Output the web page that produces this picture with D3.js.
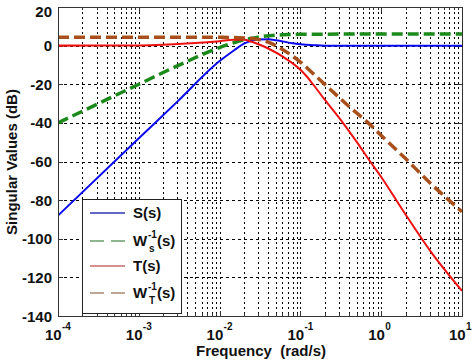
<!DOCTYPE html>
<html>
<head>
<meta charset="utf-8">
<script src="https://cdn.jsdelivr.net/npm/d3@7"></script>
<style>
  html, body { margin: 0; padding: 0; background: #fff; }
  svg { display: block; font-family: Arial, "Liberation Sans", sans-serif; }
</style>
</head>
<body>
<svg id="chart" width="474" height="362"></svg>
<script>
// values (frequency in rad/s, magnitude in dB)
const sFreq = [1e-4, 1e-3, 3e-3, 1e-2, 1.5e-2, 2e-2, 2.5e-2, 3e-2, 4e-2, 5e-2, 6e-2, 8e-2, 1e-1, 1.5e-1, 2e-1, 1e1];
const sDb = [-88, -48, -29, -8, -2.5, 1, 2.5, 3.2, 3.3, 2.8, 2.2, 1.2, 0.7, 0.2, 0, 0];

const wsFreq = [1e-4, 1e-3, 3e-3, 1e-2, 1.5e-2, 2e-2, 3e-2, 5e-2, 7e-2, 1e-1, 1, 1e1];
const wsDb = [-40, -20, -10.5, -1, 1.5, 3, 4.4, 5.4, 5.7, 5.85, 6, 6];

const tFreq = [1e-4, 1e-3, 2e-3, 5e-3, 1e-2, 1.5e-2, 2e-2, 2.5e-2, 3.2e-2, 4e-2, 6.2e-2, 1e-1, 1.2e-1, 1.43e-1, 2e-1, 3.36e-1, 5e-1, 7.3e-1, 1, 1.9, 4, 1e1];
const tDb = [0, 0.1, 0.4, 1.3, 2.3, 3, 3, 2, 0.3, -1.5, -6, -12.5, -16, -20, -28, -40, -50, -60, -68, -86, -106, -127];

const wtFreq = [1e-4, 1e-2, 2e-2, 3e-2, 4e-2, 6e-2, 1e-1, 1.4e-1, 2e-1, 4e-1, 6.9e-1, 1, 2, 4, 1e1];
const wtDb = [4.3, 4.3, 4, 3.2, 1.8, -2, -8.5, -14, -20, -31.5, -40, -46.5, -58.5, -71, -86];

const yTicks = [20, 0, -20, -40, -60, -80, -100, -120, -140];
const xExponents = [-4, -3, -2, -1, 0, 1];

const series = [
  { name: "S", freq: sFreq, db: sDb, color: "#0a0af0", width: 2, dash: null },
  { name: "Ws", freq: wsFreq, db: wsDb, color: "#1b8a1b", width: 3.5, dash: "11,5" },
  { name: "T", freq: tFreq, db: tDb, color: "#ee1111", width: 2, dash: null },
  { name: "Wt", freq: wtFreq, db: wtDb, color: "#a8501c", width: 3.5, dash: "11,5" }
];

const svg = d3.select("#chart");
const pLeft = 58, pRight = 462, pTop = 7, pBottom = 316;

const x = d3.scaleLog().domain([1e-4, 1e1]).range([pLeft, pRight]);
const y = d3.scaleLinear().domain([-140, 20]).range([pBottom, pTop]);

svg.append("defs").append("clipPath").attr("id", "plot")
  .append("rect").attr("x", pLeft).attr("y", pTop)
  .attr("width", pRight - pLeft).attr("height", pBottom - pTop);

// grid
const minor = [];
for (let e = -4; e < 1; e++) {
  for (let k = 1; k <= 9; k++) minor.push(k * Math.pow(10, e));
}
minor.push(10);

const grid = svg.append("g").attr("stroke", "#000").attr("stroke-width", 1);
grid.selectAll("line.v").data(minor.filter(v => v > 1e-4 && v < 10)).join("line")
  .attr("x1", d => Math.round(x(d)) + 0.5).attr("x2", d => Math.round(x(d)) + 0.5)
  .attr("y1", pTop).attr("y2", pBottom)
  .attr("stroke-dasharray", "2,3");
grid.selectAll("line.h").data(yTicks.filter(v => v > -140 && v < 20)).join("line")
  .attr("x1", pLeft).attr("x2", pRight)
  .attr("y1", d => Math.round(y(d)) + 0.5).attr("y2", d => Math.round(y(d)) + 0.5)
  .attr("stroke-dasharray", "3,3");

// inside tick marks on all sides
const ticks = svg.append("g").attr("stroke", "#333").attr("stroke-width", 1);
minor.forEach(v => {
  const len = Math.abs(Math.log10(v) - Math.round(Math.log10(v))) < 1e-9 ? 5 : 3;
  const xp = Math.round(x(v)) + 0.5;
  ticks.append("line").attr("x1", xp).attr("x2", xp).attr("y1", pBottom).attr("y2", pBottom - len);
  ticks.append("line").attr("x1", xp).attr("x2", xp).attr("y1", pTop).attr("y2", pTop + len);
});
yTicks.forEach(v => {
  const yp = Math.round(y(v)) + 0.5;
  ticks.append("line").attr("x1", pLeft).attr("x2", pLeft + 5).attr("y1", yp).attr("y2", yp);
  ticks.append("line").attr("x1", pRight).attr("x2", pRight - 5).attr("y1", yp).attr("y2", yp);
});

// curves
const line = d3.line()
  .x(d => x(d[0]))
  .y(d => y(d[1]))
  .curve(d3.curveMonotoneX);

const curves = svg.append("g").attr("clip-path", "url(#plot)");
series.forEach(s => {
  curves.append("path")
    .datum(s.freq.map((f, i) => [f, s.db[i]]))
    .attr("fill", "none")
    .attr("stroke", s.color)
    .attr("stroke-width", s.width)
    .attr("stroke-dasharray", s.dash)
    .attr("d", line);
});

// frame
svg.append("rect")
  .attr("x", pLeft + 0.5).attr("y", pTop + 0.5)
  .attr("width", pRight - pLeft).attr("height", pBottom - pTop)
  .attr("fill", "none").attr("stroke", "#333").attr("stroke-width", 1);

// y tick labels (top one sits lower, as in the original)
svg.append("g").selectAll("text").data(yTicks).join("text")
  .attr("x", 52).attr("y", d => Math.max(y(d) + 5.5, 17))
  .attr("text-anchor", "end")
  .attr("font-size", 15).attr("font-weight", "bold").attr("fill", "#111")
  .text(d => d);

// x tick labels 10^n
const xl = svg.append("g").attr("font-weight", "bold").attr("fill", "#111");
xExponents.forEach(e => {
  const cx = x(Math.pow(10, e));
  xl.append("text").attr("x", cx - 13).attr("y", 340).attr("font-size", 15).text("10");
  xl.append("text").attr("x", cx + 4).attr("y", 330).attr("font-size", 10).text(e);
});

// axis titles
svg.append("text")
  .attr("x", 261).attr("y", 356)
  .attr("text-anchor", "middle")
  .attr("font-size", 15).attr("font-weight", "bold").attr("fill", "#111")
  .attr("xml:space", "preserve")
  .text("Frequency  (rad/s)");

svg.append("text")
  .attr("transform", "translate(17,162) rotate(-90)")
  .attr("text-anchor", "middle")
  .attr("font-size", 15).attr("font-weight", "bold").attr("fill", "#111")
  .text("Singular Values (dB)");

// legend
const lg = svg.append("g");
lg.append("rect")
  .attr("x", 82.5).attr("y", 199.5).attr("width", 99).attr("height", 114)
  .attr("fill", "#fff").attr("stroke", "#222").attr("stroke-width", 1);

const legendY = [213, 241, 266, 293];
const legendColors = ["#3333b0", "#6a9e6a", "#c86a6a", "#a88a70"];
series.forEach((s, i) => {
  lg.append("line")
    .attr("x1", 90).attr("x2", 125)
    .attr("y1", legendY[i]).attr("y2", legendY[i])
    .attr("stroke", legendColors[i]).attr("stroke-width", 1.3)
    .attr("stroke-dasharray", s.dash ? "14,7" : null);
});

const lt = lg.append("g").attr("font-weight", "bold").attr("fill", "#111");
lt.append("text").attr("x", 133).attr("y", legendY[0] + 5).attr("font-size", 15).text("S(s)");
lt.append("text").attr("x", 133).attr("y", legendY[2] + 5).attr("font-size", 15).text("T(s)");
[["s", 1], ["T", 3]].forEach(([sub, i]) => {
  const by = legendY[i] + 5;
  lt.append("text").attr("x", 133).attr("y", by).attr("font-size", 15).text("W");
  lt.append("text").attr("x", 148).attr("y", by - 8).attr("font-size", 10).text("-1");
  lt.append("text").attr("x", 149).attr("y", by + 6).attr("font-size", 10).text(sub);
  lt.append("text").attr("x", 157).attr("y", by).attr("font-size", 15).text("(s)");
});
</script>
</body>
</html>
